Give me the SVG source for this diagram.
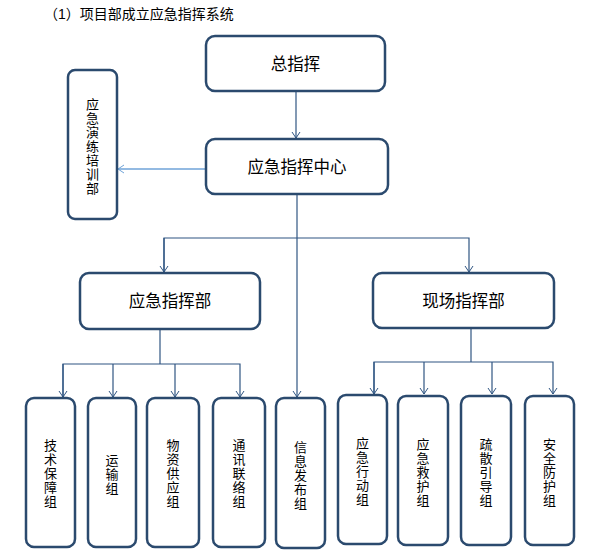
<svg xmlns="http://www.w3.org/2000/svg" width="602" height="550" viewBox="0 0 602 550">
<defs>
<marker id="arr" markerUnits="userSpaceOnUse" markerWidth="10" markerHeight="10" refX="7" refY="4.5" orient="auto">
<path d="M1,0.5 L7,4.5 L1,8.5" fill="none" stroke="#2F5582" stroke-width="1"/>
</marker>
<marker id="arrL" markerUnits="userSpaceOnUse" markerWidth="10" markerHeight="10" refX="7" refY="4.5" orient="auto">
<path d="M1,0.5 L7,4.5 L1,8.5" fill="none" stroke="#6FA3D8" stroke-width="1"/>
</marker>
</defs>
<style>
.box{fill:#fff;stroke:#2B4A6E;stroke-width:2.5}
.t{font-family:"Liberation Sans","Noto Sans CJK SC",sans-serif;fill:#000}
.h{font-size:16.5px;text-anchor:middle}
.v{font-size:13px;text-anchor:middle}
.c{fill:none;stroke:#2F5582;stroke-width:1.2}
</style>
<rect width="602" height="550" fill="#fff"/>
<text class="t" x="44" y="19" font-size="14">（1）项目部成立应急指挥系统</text>

<g id="connectors">
<line class="c" x1="296" y1="91" x2="296" y2="138" marker-end="url(#arr)"/>
<line x1="206" y1="169" x2="118" y2="169" stroke="#6FA3D8" stroke-width="1.5" marker-end="url(#arrL)"/>
<line class="c" x1="297" y1="194" x2="297" y2="397" marker-end="url(#arr)"/>
<polyline class="c" points="164,272 164,238 469,238 469,272" marker-end="url(#arr)"/>
<line class="c" x1="164" y1="238" x2="164" y2="272" marker-end="url(#arr)"/>
<line class="c" x1="160" y1="329" x2="160" y2="364"/>
<polyline class="c" points="63,397 63,364 240,364 240,397" marker-end="url(#arr)"/>
<line class="c" x1="63" y1="364" x2="63" y2="397" marker-end="url(#arr)"/>
<line class="c" x1="113" y1="364" x2="113" y2="397" marker-end="url(#arr)"/>
<line class="c" x1="175" y1="364" x2="175" y2="397" marker-end="url(#arr)"/>
<line class="c" x1="471" y1="328" x2="471" y2="362"/>
<polyline class="c" points="374,394 374,362 553,362 553,394" marker-end="url(#arr)"/>
<line class="c" x1="374" y1="362" x2="374" y2="394" marker-end="url(#arr)"/>
<line class="c" x1="424" y1="362" x2="424" y2="394" marker-end="url(#arr)"/>
<line class="c" x1="492" y1="362" x2="492" y2="394" marker-end="url(#arr)"/>
</g>

<g id="zongzhihui">
<rect class="box" x="206" y="36" width="179" height="55" rx="9"/>
<text class="t h" x="295.5" y="69.5">总指挥</text>
</g>
<g id="zhongxin">
<rect class="box" x="206" y="139" width="182" height="55" rx="9"/>
<text class="t h" x="297" y="172.5">应急指挥中心</text>
</g>
<g id="peixun">
<rect class="box" x="68" y="70" width="49" height="149" rx="7"/>
<text class="t v" x="92.5" y="109"><tspan x="92.5">应</tspan><tspan x="92.5" dy="14">急</tspan><tspan x="92.5" dy="14">演</tspan><tspan x="92.5" dy="14">练</tspan><tspan x="92.5" dy="14">培</tspan><tspan x="92.5" dy="14">训</tspan><tspan x="92.5" dy="14">部</tspan></text>
</g>
<g id="yingjizhihuibu">
<rect class="box" x="80" y="273" width="180" height="56" rx="9"/>
<text class="t h" x="170" y="307">应急指挥部</text>
</g>
<g id="xianchang">
<rect class="box" x="373" y="273" width="181" height="55" rx="9"/>
<text class="t h" x="463.5" y="306.5">现场指挥部</text>
</g>

<g id="jishu">
<rect class="box" x="26" y="398" width="49" height="149" rx="8"/>
<text class="t v" x="50.5" y="450"><tspan x="50.5">技</tspan><tspan x="50.5" dy="14">术</tspan><tspan x="50.5" dy="14">保</tspan><tspan x="50.5" dy="14">障</tspan><tspan x="50.5" dy="14">组</tspan></text>
</g>
<g id="yunshu">
<rect class="box" x="88" y="398" width="48" height="149" rx="8"/>
<text class="t v" x="112" y="465"><tspan x="112">运</tspan><tspan x="112" dy="14">输</tspan><tspan x="112" dy="14">组</tspan></text>
</g>
<g id="wuzi">
<rect class="box" x="147" y="398" width="52" height="149" rx="8"/>
<text class="t v" x="173" y="450"><tspan x="173">物</tspan><tspan x="173" dy="14">资</tspan><tspan x="173" dy="14">供</tspan><tspan x="173" dy="14">应</tspan><tspan x="173" dy="14">组</tspan></text>
</g>
<g id="tongxun">
<rect class="box" x="213" y="398" width="52" height="149" rx="8"/>
<text class="t v" x="239" y="450"><tspan x="239">通</tspan><tspan x="239" dy="14">讯</tspan><tspan x="239" dy="14">联</tspan><tspan x="239" dy="14">络</tspan><tspan x="239" dy="14">组</tspan></text>
</g>
<g id="xinxi">
<rect class="box" x="276" y="398" width="49" height="150" rx="8"/>
<text class="t v" x="300.5" y="452"><tspan x="300.5">信</tspan><tspan x="300.5" dy="14">息</tspan><tspan x="300.5" dy="14">发</tspan><tspan x="300.5" dy="14">布</tspan><tspan x="300.5" dy="14">组</tspan></text>
</g>
<g id="xingdong">
<rect class="box" x="338" y="395" width="49" height="149" rx="8"/>
<text class="t v" x="362.5" y="448"><tspan x="362.5">应</tspan><tspan x="362.5" dy="14">急</tspan><tspan x="362.5" dy="14">行</tspan><tspan x="362.5" dy="14">动</tspan><tspan x="362.5" dy="14">组</tspan></text>
</g>
<g id="jiuhu">
<rect class="box" x="398" y="396" width="50" height="149" rx="8"/>
<text class="t v" x="423" y="449"><tspan x="423">应</tspan><tspan x="423" dy="14">急</tspan><tspan x="423" dy="14">救</tspan><tspan x="423" dy="14">护</tspan><tspan x="423" dy="14">组</tspan></text>
</g>
<g id="shusan">
<rect class="box" x="461" y="396" width="50" height="149" rx="8"/>
<text class="t v" x="486" y="449"><tspan x="486">疏</tspan><tspan x="486" dy="14">散</tspan><tspan x="486" dy="14">引</tspan><tspan x="486" dy="14">导</tspan><tspan x="486" dy="14">组</tspan></text>
</g>
<g id="anquan">
<rect class="box" x="525" y="396" width="49" height="149" rx="8"/>
<text class="t v" x="549.5" y="449"><tspan x="549.5">安</tspan><tspan x="549.5" dy="14">全</tspan><tspan x="549.5" dy="14">防</tspan><tspan x="549.5" dy="14">护</tspan><tspan x="549.5" dy="14">组</tspan></text>
</g>
</svg>
